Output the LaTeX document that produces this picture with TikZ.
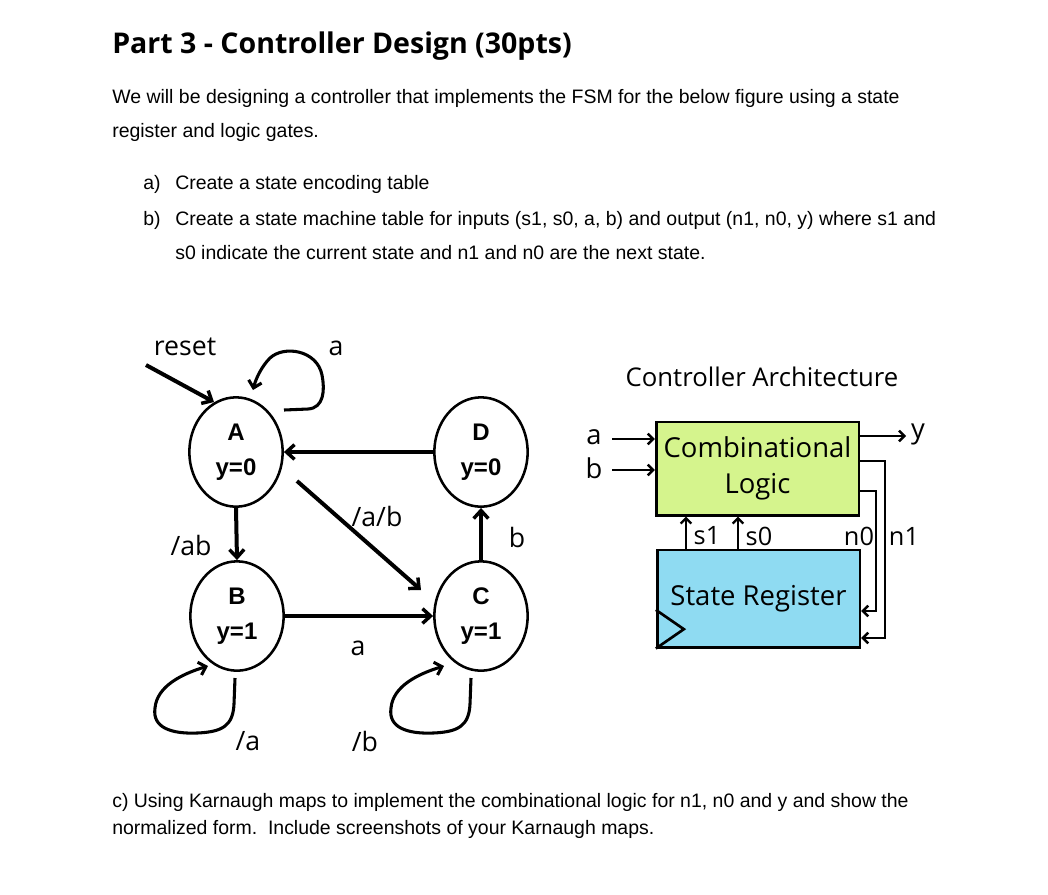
\documentclass[tikz,border=0pt]{standalone}
\usepackage{fontspec}
\setmainfont{Liberation Sans}
\newfontfamily\titlefont{Open Sans}
\newfontfamily\diafont{Open Sans}
\usetikzlibrary{arrows.meta,shapes.geometric}
\definecolor{clgreen}{HTML}{D5F48D}
\definecolor{srblue}{HTML}{8FDBF2}
\begin{document}
\begin{tikzpicture}[x=0.75pt,y=-0.75pt,
  body/.style={anchor=base west, inner sep=0, font=\fontsize{14.6}{17}\selectfont},
  lbl/.style={inner sep=0, font=\diafont\fontsize{20}{24}\selectfont},
  albl/.style={inner sep=0, font=\diafont\fontsize{20.5}{24}\selectfont},
  fsmstate/.style={draw, ellipse, line width=1.9pt, minimum width=70pt, minimum height=82pt, inner sep=0, align=center, font=\bfseries\fontsize{18}{26}\selectfont},
  arr/.style={line width=3pt, -{Straight Barb[length=6pt,width=11pt,line width=2.6pt]}},
  loop/.style={line width=2.3pt, -{Straight Barb[length=5pt,width=10pt,line width=2.3pt]}},
  aarr/.style={line width=2pt, -{Straight Barb[length=4pt,width=8pt,line width=1.8pt]}},
  box/.style={draw, line width=2pt, inner sep=0}
]
\useasboundingbox (0,0) rectangle (1048,894);

% texts
\node[anchor=base west, inner sep=0, font=\titlefont\bfseries\fontsize{21.4}{26}\selectfont] (title) at (112,53) {Part 3 - Controller Design (30pts)};
\node[body] (l1) at (112,103) {We will be designing a controller that implements the FSM for the below figure using a state};
\node[body] (l2) at (112,137) {register and logic gates.};
\node[body] (qa) at (143,189) {a)};
\node[body] (qat) at (175,189) {Create a state encoding table};
\node[body] (qb) at (143,225) {b)};
\node[body] (qbt) at (175,225) {Create a state machine table for inputs (s1, s0, a, b) and output (n1, n0, y) where s1 and};
\node[body] (qbt2) at (175,259) {s0 indicate the current state and n1 and n0 are the next state.};
\node[body] (qc) at (112,807) {c) Using Karnaugh maps to implement the combinational logic for n1, n0 and y and show the};
\node[body] (qc2) at (112,834) {normalized form.\ \ Include screenshots of your Karnaugh maps.};

% FSM
\node[fsmstate] (A) at (236,452) {A\\y=0};
\node[fsmstate] (D) at (481,452) {D\\y=0};
\node[fsmstate] (B) at (237,616) {B\\y=1};
\node[fsmstate] (C) at (481,616) {C\\y=1};

\coordinate (rst) at (146,365);
\draw[arr] (rst) -- ([shift={(-22,-50)}]A.center);
\node[lbl] (rstl) at (185,347) {reset};

\draw[arr] (D.west) -- (A.east);
\draw[arr] (A.south) -- (B.north);
\draw[arr] (B.east) -- (C.west);
\draw[arr] (C.north) -- (D.south);
\draw[arr] ([shift={(61,29)}]A.center) -- ([shift={(-60,-26)}]C.center);

\node[lbl] (la) at (336,348) {a};
\node[lbl] (lab) at (377,516) {/a/b};
\node[lbl] (lab2) at (191,545) {/ab};
\node[lbl] (lbc) at (358,648) {a};
\node[lbl] (lcd) at (517,537) {b};
\node[lbl] (lbb) at (248,741) {/a};
\node[lbl] (lcc) at (365,741) {/b};

\begin{scope}[shift={(A.center)}]
\draw[loop] (48,-42) -- (72,-43) .. controls (88,-44) and (89,-62) .. (86,-77) .. controls (81,-102) and (48,-107) .. (34,-94) .. controls (26,-86) and (20,-74) .. (17,-62);
\end{scope}
\begin{scope}[shift={(B.center)}]
\draw[loop] (-2,62) -- (-3,88) .. controls (-4,110) and (-15,116) .. (-40,117) .. controls (-65,118) and (-85,112) .. (-82,92) .. controls (-80,70) and (-55,58) .. (-29,50);
\end{scope}
\begin{scope}[shift={(C.center)}]
\draw[loop] (-10,62) -- (-11,88) .. controls (-12,110) and (-23,116) .. (-48,117) .. controls (-73,118) and (-93,112) .. (-90,92) .. controls (-88,70) and (-63,58) .. (-37,50);
\end{scope}

% Controller architecture
\node[albl, font=\diafont\fontsize{19.3}{24}\selectfont] (ct) at (762,377) {Controller Architecture};
\node[box, fill=clgreen, minimum width=152pt, minimum height=70pt, align=center, font=\diafont\fontsize{20.6}{27}\selectfont] (CL) at (757.5,468.5) {Combinational\\Logic};
\node[box, fill=srblue, minimum width=152pt, minimum height=73pt, font=\diafont\fontsize{20.6}{24}\selectfont] (SR) at (758.5,598.5) {State Register};
\draw[line width=2pt, line join=miter] ([yshift=29pt]SR.south west) -- ++(21pt,-14.5pt) -- (SR.south west);

\coordinate (ain) at (612,439);
\coordinate (bin) at (612,470);
\draw[aarr] (ain) -- (ain -| CL.west);
\draw[aarr] (bin) -- (bin -| CL.west);
\node[albl] (al) at (594,437) {a};
\node[albl] (bl) at (594,468) {b};

\coordinate (yout) at (906,436);
\draw[aarr] (yout -| CL.east) -- (yout);
\node[albl] (yl) at (918,434) {y};

\coordinate (n1a) at (885,461);
\coordinate (n1b) at (885,638);
\draw[aarr, line join=miter] (CL.east |- n1a) -- (n1a) -- (n1b) -- (SR.east |- n1b);
\coordinate (n0a) at (876,491);
\coordinate (n0b) at (876,611);
\draw[aarr, line join=miter] (CL.east |- n0a) -- (n0a) -- (n0b) -- (SR.east |- n0b);
\node[albl, font=\diafont\fontsize{19}{24}\selectfont] (n0l) at (859,536) {n0};
\node[albl, font=\diafont\fontsize{19}{24}\selectfont] (n1l) at (904,536) {n1};

\coordinate (s1x) at (686,0);
\coordinate (s0x) at (738,0);
\draw[aarr] (SR.north -| s1x) -- (CL.south -| s1x);
\draw[aarr] (SR.north -| s0x) -- (CL.south -| s0x);
\node[albl, font=\diafont\fontsize{19}{24}\selectfont] (s1l) at (707,536) {s1};
\node[albl, font=\diafont\fontsize{19}{24}\selectfont] (s0l) at (759,536) {s0};
\end{tikzpicture}
\end{document}
